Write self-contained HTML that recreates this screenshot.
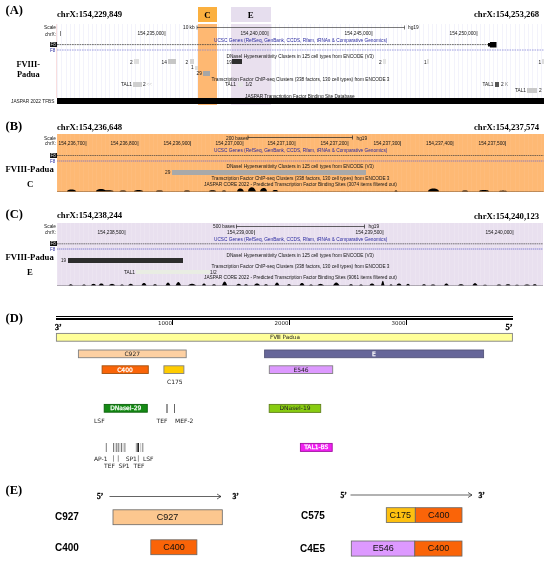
<!DOCTYPE html>
<html><head><meta charset="utf-8">
<style>
html,body{margin:0;padding:0;background:#fff;}
#f{position:relative;width:550px;height:562px;overflow:hidden;background:#fff;font-family:"Liberation Sans",sans-serif;}
#f div{position:absolute;white-space:nowrap;line-height:1;}
#f svg{position:absolute;left:0;top:0;}
.pl{font-family:"Liberation Serif",serif;font-weight:bold;font-size:12.5px;color:#000;}
.ch{font-family:"Liberation Serif",serif;font-weight:bold;font-size:8.7px;color:#000;}
.sl{font-family:"Liberation Serif",serif;font-weight:bold;font-size:9.5px;color:#000;text-align:center;}
.t{font-size:4.75px;color:#151515;transform:translateY(1.2px);}
.r{text-align:right;}
.tb{font-size:4.75px;color:#2a2aa0;transform:translateY(1.2px);}
.bx{font-family:"DejaVu Sans",sans-serif;font-size:6px;text-align:center;color:#222;}
.bb{color:#fff !important;font-size:6px !important;-webkit-text-stroke:0.25px #fff;}
.v{font-family:"DejaVu Sans",sans-serif;font-size:6px;color:#222;}
.eb{font-weight:bold;font-size:10px;color:#000;}
.ex{font-size:9px;text-align:center;color:#111;}
.p5{font-family:"Liberation Serif",serif;font-weight:bold;font-size:7.6px;color:#000;-webkit-text-stroke:0.3px #000;}
</style></head><body>
<div id="f">
<!-- PANEL A -->
 <div style="left:57px;top:24px;width:487px;height:74px;background:repeating-linear-gradient(90deg,#f3f3fb 0,#f3f3fb 1px,#fff 1px,#fff 4.36px);"></div>
 <div style="left:56px;top:24px;width:1px;height:74px;background:#f9dede;"></div>
 <div style="left:198px;top:6.5px;width:19px;height:15px;background:#fbb03f;"></div><div style="left:198px;top:24px;width:19px;height:80.5px;background:#feb872;"></div>
 <div style="left:231px;top:6.5px;width:39.5px;height:15px;background:#e6deee;"></div><div style="left:231px;top:24px;width:39.5px;height:80.5px;background:#e9e0ee;"></div>
 <div class="pl" style="left:5.5px;top:4px;">(A)</div>
 <div class="ch" style="left:57px;top:10.1px;">chrX:154,229,849</div>
 <div class="ch" style="left:474px;top:10.1px;">chrX:154,253,268</div>
 <div class="sl" style="left:198px;top:10.7px;width:19px;font-size:8.8px;">C</div>
 <div class="sl" style="left:231px;top:10.7px;width:39.5px;font-size:8.8px;">E</div>
 <div class="sl" style="left:8.3px;top:59.7px;width:40px;font-size:8.4px;line-height:10.5px;white-space:normal;">FVIII-<br>Padua</div>
 <div class="t r" style="left:20px;width:36px;top:25px;">Scale</div>
 <div class="t r" style="left:20px;width:36px;top:31.5px;">chrX:</div>
 <div class="t" style="left:183px;top:25px;">10 kb</div>
 <div class="t" style="left:408px;top:25px;">hg19</div>
 <div class="t r" style="left:100px;width:64px;top:31.4px;">154,235,000</div>
 <div class="t r" style="left:203px;width:64px;top:31.4px;">154,240,000</div>
 <div class="t r" style="left:307px;width:64px;top:31.4px;">154,245,000</div>
 <div class="t r" style="left:412px;width:64px;top:31.4px;">154,250,000</div>
 <div class="tb" style="left:214px;top:37.5px;">UCSC Genes (RefSeq, GenBank, CCDS, Rfam, tRNAs &amp; Comparative Genomics)</div>
 <div style="left:50px;top:42px;width:6.5px;height:5px;background:#111;color:#ddd;font-size:4.5px;text-align:center;line-height:5px;">F8</div>
 <div class="tb" style="left:50px;top:48px;font-size:4.5px;">F8</div>
 <div class="t" style="left:226.5px;top:54.1px;">DNaseI Hypersensitivity Clusters in 125 cell types from ENCODE (V3)</div>
 <div class="t" style="left:211.5px;top:76.5px;">Transcription Factor ChIP-seq Clusters (338 factors, 130 cell types) from ENCODE 3</div>
 <div class="t" style="left:245px;top:93.5px;">JASPAR Transcription Factor Binding Site Database</div>
 <!-- DNase items -->
 <div class="t" style="left:130px;top:59.5px;">2</div><div style="left:134px;top:59px;width:5px;height:4.5px;background:#dedede;"></div>
 <div class="t" style="left:161.5px;top:59.5px;">14</div><div style="left:168px;top:59px;width:8px;height:4.5px;background:#c6c6c6;"></div>
 <div class="t" style="left:185.5px;top:59.5px;">2</div><div style="left:189.5px;top:59px;width:4.5px;height:4.5px;background:#d4d4d4;"></div>
 <div class="t" style="left:226.5px;top:59.5px;">19</div><div style="left:232px;top:59px;width:10px;height:4.5px;background:#2e2e2e;"></div>
 <div class="t" style="left:191px;top:65px;">1</div><div style="left:194.5px;top:65.5px;width:3.4px;height:4px;background:#ddd;"></div>
 <div class="t" style="left:196.5px;top:71px;">29</div><div style="left:203px;top:70.5px;width:7px;height:5px;background:#a6a6a6;"></div>
 <div class="t" style="left:379px;top:59.5px;">2</div><div style="left:382.5px;top:59px;width:3px;height:4.5px;background:#e4e4e4;"></div>
 <div class="t" style="left:424px;top:59.5px;">1</div><div style="left:426.5px;top:59px;width:2.5px;height:4.5px;background:#ddd;"></div>
 <div class="t" style="left:538.5px;top:59.5px;">1</div><div style="left:541.5px;top:59px;width:2px;height:4.5px;background:#ddd;"></div>
 <!-- TF items -->
 <div class="t" style="left:121px;top:81.5px;">TAL1</div><div style="left:133px;top:81.5px;width:9px;height:5px;background:#cfcfcf;"></div><div class="t" style="left:143px;top:81.5px;">2</div><div class="t" style="left:146.5px;top:81.5px;color:#ccc;">&lt;&lt;</div>
 <div class="t" style="left:225px;top:81.5px;">TAL1</div><div style="left:238px;top:81.5px;width:5px;height:5px;background:#e6e6e6;"></div><div class="t" style="left:245.5px;top:81.5px;">1/2</div>
 <div class="t" style="left:482.5px;top:81.5px;">TAL1</div><div style="left:494.5px;top:81.5px;width:4.5px;height:5px;background:#555;"></div><div class="t" style="left:501px;top:81.5px;">2 <span style="color:#888">K</span></div>
 <div class="t" style="left:515px;top:87.5px;">TAL1</div><div style="left:527px;top:87.5px;width:9.5px;height:5px;background:#cacaca;"></div><div class="t" style="left:539px;top:87.5px;">2</div>
 <div style="left:57px;top:98.3px;width:487px;height:6px;background:#000;"></div>
 <div class="t" style="left:11px;top:98.5px;">JASPAR 2022 TFBS</div>

<!-- PANEL B -->
 <div style="left:57px;top:134px;width:487px;height:57.5px;background:repeating-linear-gradient(90deg,#febc7b 0,#febc7b 1px,#feb974 1px,#feb974 4.36px);"></div>
 <div class="pl" style="left:5.5px;top:120px;">(B)</div>
 <div class="ch" style="left:57px;top:123px;">chrX:154,236,648</div>
 <div class="ch" style="left:474px;top:123px;">chrX:154,237,574</div>
 <div class="ch" style="left:5.5px;top:164.6px;">FVIII-Padua</div>
 <div class="ch" style="left:27px;top:179.5px;">C</div>
 <div class="t r" style="left:20px;width:36px;top:135.7px;">Scale</div>
 <div class="t r" style="left:20px;width:36px;top:141px;">chrX:</div>
 <div class="t" style="left:226px;top:135.7px;">200 bases</div>
 <div class="t" style="left:356.5px;top:135.7px;">hg19</div>
 <div class="t r" style="left:21px;width:64px;top:141px;">154,236,700</div>
 <div class="t r" style="left:73px;width:64px;top:141px;">154,236,800</div>
 <div class="t r" style="left:126px;width:64px;top:141px;">154,236,900</div>
 <div class="t r" style="left:178px;width:64px;top:141px;">154,237,000</div>
 <div class="t r" style="left:230px;width:64px;top:141px;">154,237,100</div>
 <div class="t r" style="left:283px;width:64px;top:141px;">154,237,200</div>
 <div class="t r" style="left:336px;width:64px;top:141px;">154,237,300</div>
 <div class="t r" style="left:388.5px;width:64px;top:141px;">154,237,400</div>
 <div class="t r" style="left:441px;width:64px;top:141px;">154,237,500</div>
 <div class="tb" style="left:214px;top:147.5px;">UCSC Genes (RefSeq, GenBank, CCDS, Rfam, tRNAs &amp; Comparative Genomics)</div>
 <div style="left:50px;top:153px;width:6.5px;height:5px;background:#111;color:#ddd;font-size:4.5px;text-align:center;line-height:5px;">F8</div>
 <div class="tb" style="left:50px;top:159px;font-size:4.5px;">F8</div>
 <div class="t" style="left:226.5px;top:164px;">DNaseI Hypersensitivity Clusters in 125 cell types from ENCODE (V3)</div>
 <div class="t" style="left:165px;top:170px;">29</div>
 <div style="left:172px;top:170px;width:194px;height:5px;background:#a9a9a9;"></div>
 <div class="t" style="left:211.5px;top:175.5px;">Transcription Factor ChIP-seq Clusters (338 factors, 130 cell types) from ENCODE 3</div>
 <div class="t" style="left:204px;top:181.5px;">JASPAR CORE 2022 - Predicted Transcription Factor Binding Sites (3074 items filtered out)</div>

<!-- PANEL C -->
 <div style="left:57px;top:222.5px;width:486px;height:63px;background:repeating-linear-gradient(90deg,#ece4f1 0,#ece4f1 1px,#e9e0ef 1px,#e9e0ef 4.36px);"></div>
 <div class="pl" style="left:5.5px;top:208.2px;">(C)</div>
 <div class="ch" style="left:57px;top:210.6px;">chrX:154,238,244</div>
 <div class="ch" style="left:474px;top:211.6px;">chrX:154,240,123</div>
 <div class="ch" style="left:5.5px;top:252.6px;">FVIII-Padua</div>
 <div class="ch" style="left:27px;top:267.5px;">E</div>
 <div class="t r" style="left:20px;width:36px;top:223.5px;">Scale</div>
 <div class="t r" style="left:20px;width:36px;top:230px;">chrX:</div>
 <div class="t" style="left:213px;top:223.5px;">500 bases</div>
 <div class="t" style="left:368.5px;top:223.5px;">hg19</div>
 <div class="t r" style="left:60px;width:64px;top:230px;">154,238,500</div>
 <div class="t r" style="left:189.5px;width:64px;top:230px;">154,239,000</div>
 <div class="t r" style="left:318px;width:64px;top:230px;">154,239,500</div>
 <div class="t r" style="left:448px;width:64px;top:230px;">154,240,000</div>
 <div class="tb" style="left:214px;top:236.5px;">UCSC Genes (RefSeq, GenBank, CCDS, Rfam, tRNAs &amp; Comparative Genomics)</div>
 <div style="left:50px;top:241.2px;width:6.5px;height:5px;background:#111;color:#ddd;font-size:4.5px;text-align:center;line-height:5px;">F8</div>
 <div class="tb" style="left:50px;top:247px;font-size:4.5px;">F8</div>
 <div class="t" style="left:226.5px;top:252.7px;">DNaseI Hypersensitivity Clusters in 125 cell types from ENCODE (V3)</div>
 <div class="t" style="left:61px;top:258px;font-size:4.5px;">19</div>
 <div style="left:67.5px;top:258px;width:115.5px;height:5px;background:#2d2d2d;"></div>
 <div class="t" style="left:211.5px;top:264px;">Transcription Factor ChIP-seq Clusters (338 factors, 130 cell types) from ENCODE 3</div>
 <div class="t" style="left:124px;top:269.5px;">TAL1</div>
 <div style="left:135.5px;top:270px;width:74px;height:4px;background:#e9ede3;"></div>
 <div class="t" style="left:210px;top:270.3px;">1/2</div>
 <div class="t" style="left:204px;top:275.2px;">JASPAR CORE 2022 - Predicted Transcription Factor Binding Sites (9061 items filtered out)</div>

<!-- PANEL D -->
 <svg width="550" height="562" viewBox="0 0 550 562">
  <g stroke="#808080" stroke-width="0.9">
   <rect x="56.4" y="333.4" width="456" height="7.8" fill="#ffff99"/>
   <rect x="78.4" y="350" width="107.8" height="7.7" fill="#fdd0a2"/>
   <rect x="264.6" y="350" width="219" height="7.7" fill="#666699" stroke="#55557a"/>
   <rect x="102.1" y="365.8" width="46.2" height="7.7" fill="#fa6408" stroke="#a0500f"/>
   <rect x="163.9" y="365.8" width="20" height="7.7" fill="#ffcc00"/>
   <rect x="269.3" y="365.8" width="63.4" height="7.7" fill="#dd99ff"/>
   <rect x="104.2" y="404.4" width="43.1" height="7.8" fill="#158a15" stroke="#0a600a"/>
   <rect x="269.2" y="404.4" width="51.5" height="8" fill="#88cc11" stroke="#60801a"/>
   <rect x="300.4" y="443.4" width="31.8" height="8" fill="#f020f0" stroke="#a010a0"/>
  </g>
  <g stroke="#666" stroke-width="0.8">
   <rect x="113" y="509.8" width="109.3" height="14.9" fill="#fcc78f"/>
   <rect x="150.8" y="539.8" width="46.1" height="14.9" fill="#fa6408"/>
   <rect x="386.3" y="507.7" width="29" height="14.8" fill="#fdc010"/>
   <rect x="415.3" y="507.7" width="46.7" height="14.8" fill="#fa6408"/>
   <rect x="351.3" y="541" width="63.5" height="15.1" fill="#dd99ff"/>
   <rect x="414.8" y="541" width="47.2" height="15.1" fill="#fa6408"/>
  </g>
 </svg>
 <div class="pl" style="left:5.5px;top:311.5px;">(D)</div>
 <div style="left:56px;top:315.8px;width:457px;height:1.3px;background:#000;"></div>
 <div style="left:56px;top:318.4px;width:457px;height:1.4px;background:#000;"></div>
 <div class="p5" style="left:55px;top:323.5px;font-size:8px;">3’</div>
 <div class="p5" style="left:505.5px;top:323px;font-size:8.5px;">5’</div>
 <div class="v" style="left:158px;top:320.7px;font-size:5.5px;">1000</div><div style="left:172px;top:320px;width:1px;height:4.5px;background:#000;"></div>
 <div class="v" style="left:274.6px;top:320.7px;font-size:5.5px;">2000</div><div style="left:289px;top:320px;width:1px;height:4.5px;background:#000;"></div>
 <div class="v" style="left:391.5px;top:320.7px;font-size:5.5px;">3000</div><div style="left:405.5px;top:320px;width:1px;height:4.5px;background:#000;"></div>
 <div class="bx" style="left:270px;top:334.5px;font-size:5.7px;">FⅧ Padua</div>
 <div class="bx" style="left:78px;top:350.7px;width:108.5px;">C927</div>
 <div class="bx bb" style="left:264px;top:350.9px;width:220px;">E</div>
 <div class="bx bb" style="left:101.5px;top:366.7px;width:47px;">C400</div>
 <div class="v" style="left:167px;top:378.5px;">C175</div>
 <div class="bx" style="left:269px;top:366.5px;width:64px;">E546</div>
 <div class="bx bb" style="left:104px;top:405.3px;width:43.5px;">DNaseI-29</div>
 <div style="left:166px;top:404px;width:2px;height:8.5px;background:#999;"></div>
 <div style="left:174px;top:404px;width:1px;height:8.5px;background:#666;"></div>
 <div class="bx" style="left:269px;top:405.2px;width:52px;">DNaseI-19</div>
 <div class="v" style="left:94px;top:417.5px;">LSF</div>
 <div class="v" style="left:156.5px;top:417.5px;">TEF</div>
 <div class="v" style="left:175px;top:417.5px;">MEF-2</div>
 <div class="bx bb" style="left:300px;top:444.4px;width:32.5px;">TAL1-BS</div>
 <div class="v" style="left:94px;top:455.5px;">AP-1</div>
 <div class="v" style="left:125.7px;top:455.5px;">SP1</div>
 <div class="v" style="left:142.9px;top:455.5px;">LSF</div>
 <div class="v" style="left:104px;top:463.1px;">TEF</div>
 <div class="v" style="left:118.4px;top:463.1px;">SP1</div>
 <div class="v" style="left:133.5px;top:463.1px;">TEF</div>

<!-- PANEL E -->
 <div class="pl" style="left:5.5px;top:483.5px;">(E)</div>
 <div class="p5" style="left:97px;top:493.3px;">5’</div>
 <div class="p5" style="left:232.5px;top:493.3px;">3’</div>
 <div class="p5" style="left:340.5px;top:492.3px;">5’</div>
 <div class="p5" style="left:478.5px;top:492.3px;">3’</div>
 <div class="eb" style="left:55px;top:511.5px;">C927</div>
 <div class="eb" style="left:55px;top:542.5px;">C400</div>
 <div class="eb" style="left:301px;top:510.5px;">C575</div>
 <div class="eb" style="left:300px;top:543.5px;">C4E5</div>
 <div class="ex" style="left:112.5px;top:512.5px;width:110px;">C927</div>
 <div class="ex" style="left:150.5px;top:543px;width:47px;">C400</div>
 <div class="ex" style="left:385.3px;top:510.5px;width:30px;">C175</div>
 <div class="ex" style="left:415px;top:510.5px;width:47.5px;">C400</div>
 <div class="ex" style="left:351px;top:544px;width:64.5px;">E546</div>
 <div class="ex" style="left:414.5px;top:544px;width:48px;">C400</div>

<svg width="550" height="562" viewBox="0 0 550 562">
 <!-- A lines -->
 <g fill="none" stroke-width="1">
 <path d="M57 44.6H490" stroke="#333" stroke-dasharray="1.8 0.7" stroke-width="0.7"/>
 <path d="M57 50H543.5" stroke="#8585d8" stroke-dasharray="1.6 0.9" stroke-width="0.8"/>
 <path d="M197 27.5H404.5M197 25.5v4M404.5 25.5v4" stroke="#222" stroke-width="0.6"/>
 <path d="M60.5 31v5M165 31v5M268 31v5M372 31v5M477 31v5" stroke="#333" stroke-width="0.6"/>
 <!-- B lines -->
 <path d="M57 155.5H543.5" stroke="#3a3a3a" stroke-dasharray="1.6 0.6" stroke-width="0.65"/>
 <path d="M57 161H543.5" stroke="#7a6cc4" stroke-dasharray="1.4 0.6" stroke-width="0.8"/>
 <path d="M248 137.5H352.5M248 135.5v4M352.5 135.5v4" stroke="#222" stroke-width="0.7"/>
 <path d="M86 141v5M138 141v5M190.5 141v5M243 141v5M295 141v5M348 141v5M400.5 141v5M453 141v5M505.5 141v5" stroke="#333" stroke-width="0.6"/>
 <!-- C lines -->
 <path d="M57 243.8H543" stroke="#3a3a3a" stroke-dasharray="1.6 0.6" stroke-width="0.65"/>
 <path d="M57 249H543" stroke="#6a6acc" stroke-dasharray="1.4 0.6" stroke-width="0.8"/>
 <path d="M236.5 226.5H364.5M236.5 224.5v4M364.5 224.5v4" stroke="#222" stroke-width="0.7"/>
 <path d="M125 230v5M254.5 230v5M383 230v5M513 230v5" stroke="#333" stroke-width="0.6"/>
 </g>
 <rect x="490" y="42" width="6.5" height="5.5" fill="#000"/>
 <rect x="488" y="43" width="3" height="3.5" fill="#000"/>
 <!-- B peaks -->
 <path d="M57 191.6L57 191.2L67 191.2L67.5 190.51L68 190.2L68.5 189.97L69 189.79L69.5 189.65L70 189.54L70.5 189.46L71 189.42L71.5 189.4L72 189.42L72.5 189.46L73 189.54L73.5 189.65L74 189.79L74.5 189.97L75 190.2L75.5 190.51L76 191.2L96 191.2L96.5 190.37L97 189.99L97.5 189.71L98 189.48L98.5 189.3L99 189.15L99.5 189.04L100 188.96L100.5 188.92L101 188.9L101.5 188.92L102 188.96L102.5 189.04L103 189.15L103.5 189.3L104 189.48L104.5 189.71L105 189.99L105.5 190.34L106 190.29L106.5 190.25L107 190.22L107.5 190.21L108 190.2L108.5 190.21L109 190.22L109.5 190.25L110 190.29L110.5 190.34L111 190.41L111.5 190.49L112 190.58L112.5 190.7L113 190.86L113.5 191.2L119.5 191.2L120 191L120.5 190.82L121 190.69L121.5 190.61L122 190.55L122.5 190.51L123 190.5L123.5 190.51L124 190.55L124.5 190.61L125 190.69L125.5 190.82L126 191L126.5 191.2L134 191.2L134.5 190.74L135 190.53L135.5 190.38L136 190.26L136.5 190.16L137 190.09L137.5 190.04L138 190.01L138.5 190L139 190.01L139.5 190.04L140 190.09L140.5 190.16L141 190.26L141.5 190.38L142 190.53L142.5 190.74L143 191.2L156 191.2L156.5 190.85L157 190.69L157.5 190.58L158 190.5L158.5 190.44L159 190.41L159.5 190.4L160 190.41L160.5 190.44L161 190.5L161.5 190.58L162 190.69L162.5 190.85L163 191.2L184 191.2L184.5 190.82L185 190.65L185.5 190.54L186 190.46L186.5 190.42L187 190.4L187.5 190.42L188 190.46L188.5 190.54L189 190.65L189.5 190.82L190 191.2L209 191.2L209.5 190.76L210 190.57L210.5 190.43L211 190.33L211.5 190.26L212 190.21L212.5 190.2L213 190.21L213.5 190.26L214 190.33L214.5 190.43L215 190.57L215.5 190.76L216 191.2L222 191.2L222.5 190.79L223 190.62L223.5 190.53L224 190.5L224.5 190.53L225 190.62L225.5 190.79L226 191.2L237 191.2L237.5 190.23L238 189.55L238.5 189.09L239 188.77L239.5 188.55L240 188.43L240.5 188.4L241 188.47L241.5 188.63L242 188.89L242.5 189.26L243 189.78L243.5 190.67L244 191.2L248 191.2L248.5 189.57L249 188.84L249.5 188.31L250 187.91L250.5 187.61L251 187.42L251.5 187.32L252 187.31L252.5 187.39L253 187.57L253.5 187.84L254 188.22L254.5 188.72L255 189.4L255.5 190.52L256 191.2L260 191.2L260.5 190.09L261 189.32L261.5 188.79L262 188.41L262.5 188.14L263 187.97L263.5 187.9L264 187.93L264.5 188.06L265 188.29L265.5 188.62L266 189.08L266.5 189.73L267 191.2L267.5 191.2L272.5 191.2L273 190.62L273.5 190.31L274 190.11L274.5 189.98L275 189.91L275.5 189.9L276 189.96L276.5 190.08L277 190.26L277.5 190.55L278 191.2L278.5 191.2L394.5 191.2L395 190.65L395.5 190.46L396 190.4L396.5 190.46L397 190.65L397.5 191.2L428 191.2L428.5 190.24L429 189.81L429.5 189.47L430 189.2L430.5 188.98L431 188.8L431.5 188.65L432 188.54L432.5 188.46L433 188.42L433.5 188.4L434 188.42L434.5 188.46L435 188.54L435.5 188.65L436 188.8L436.5 188.98L437 189.2L437.5 189.47L438 189.81L438.5 190.24L439 191.2L462 191.2L462.5 190.82L463 190.65L463.5 190.54L464 190.46L464.5 190.42L465 190.4L465.5 190.42L466 190.46L466.5 190.54L467 190.65L467.5 190.82L468 191.2L479 191.2L479.5 190.73L480 190.52L480.5 190.36L481 190.23L481.5 190.13L482 190.04L482.5 189.98L483 189.94L483.5 189.91L484 189.9L484.5 189.91L485 189.94L485.5 189.98L486 190.04L486.5 190.13L487 190.23L487.5 190.36L488 190.52L488.5 190.73L489 191.2L499 191.2L499.5 190.96L500 190.85L500.5 190.77L501 190.7L501.5 190.66L502 190.63L502.5 190.61L503 190.6L503.5 190.61L504 190.63L504.5 190.66L505 190.7L505.5 190.77L506 190.85L506.5 190.96L507 191.2L543.5 191.2L543.5 191.6Z" fill="#000"/>
 <!-- C peaks -->
 <path id="cp" d="M57 285.6L57 285.2L68.5 285.2L69 284.96L69.5 284.64L70 284.42L70.5 284.31L71 284.32L71.5 284.46L72 284.7L72.5 285.03L73 285.2L82 285.2L82.5 284.9L83 284.67L83.5 284.53L84 284.48L84.5 284.53L85 284.67L85.5 284.9L86 285.2L91 285.2L91.5 284.73L92 284.36L92.5 284.08L93 283.91L93.5 283.85L94 283.91L94.5 284.08L95 284.36L95.5 284.73L96 285.2L98.5 285.2L99 284.92L99.5 284.37L100 283.92L100.5 283.6L101 283.43L101.5 283.41L102 283.55L102.5 283.85L103 284.27L103.5 284.8L104 285.2L109 285.2L109.5 284.8L110 284.48L110.5 284.21L111 284.01L111.5 283.89L112 283.85L112.5 283.89L113 284.01L113.5 284.21L114 284.48L114.5 284.8L115 285.2L120 285.2L120.5 284.9L121 284.67L121.5 284.53L122 284.48L122.5 284.53L123 284.67L123.5 284.9L124 285.2L128 285.2L128.5 284.99L129 284.57L129.5 284.24L130 284L130.5 283.87L131 283.86L131.5 283.97L132 284.18L132.5 284.5L133 284.9L133.5 285.2L141.5 285.2L142 284.42L142.5 283.81L143 283.34L143.5 283.05L144 282.95L144.5 283.05L145 283.34L145.5 283.81L146 284.42L146.5 285.2L153 285.2L153.5 284.82L154 284.54L154.5 284.36L155 284.3L155.5 284.36L156 284.54L156.5 284.82L157 285.2L165.5 285.2L166 284.73L166.5 283.81L167 283.1L167.5 282.65L168 282.5L168.5 282.65L169 283.1L169.5 283.81L170 284.73L170.5 285.2L175.5 285.2L176 284.71L176.5 283.74L177 282.96L177.5 282.4L178 282.1L178.5 282.07L179 282.32L179.5 282.83L180 283.57L180.5 284.5L181 285.2L188 285.2L188.5 284.89L189 284.63L189.5 284.4L190 284.21L190.5 284.06L191 283.94L191.5 283.87L192 283.85L192.5 283.87L193 283.94L193.5 284.06L194 284.21L194.5 284.4L195 284.63L195.5 284.89L196 285.2L202 285.2L202.5 284.44L203 283.88L203.5 283.52L204 283.4L204.5 283.52L205 283.88L205.5 284.44L206 285.2L212 285.2L212.5 284.82L213 284.54L213.5 284.36L214 284.3L214.5 284.36L215 284.54L215.5 284.82L216 285.2L222 285.2L222.5 284.17L223 283.15L223.5 282.35L224 281.83L224.5 281.61L225 281.7L225.5 282.11L226 282.8L226.5 283.74L227 284.9L227.5 285.2L236 285.2L236.5 284.99L237 284.57L237.5 284.24L238 284L238.5 283.87L239 283.86L239.5 283.97L240 284.18L240.5 284.5L241 284.9L241.5 285.2L244 285.2L244.5 284.82L245 284.54L245.5 284.36L246 284.3L246.5 284.36L247 284.54L247.5 284.82L248 285.2L254 285.2L254.5 284.67L255 284.24L255.5 283.88L256 283.62L256.5 283.46L257 283.4L257.5 283.46L258 283.62L258.5 283.88L259 284.24L259.5 284.67L260 285.2L264 285.2L264.5 284.82L265 284.54L265.5 284.36L266 284.3L266.5 284.36L267 284.54L267.5 284.82L268 285.2L274.5 285.2L275 284.73L275.5 283.81L276 283.1L276.5 282.65L277 282.5L277.5 282.65L278 283.1L278.5 283.81L279 284.73L279.5 285.2L287 285.2L287.5 284.75L288 284.41L288.5 284.19L289 284.12L289.5 284.19L290 284.41L290.5 284.75L291 285.2L299.5 285.2L300 284.42L300.5 283.81L301 283.34L301.5 283.05L302 282.95L302.5 283.05L303 283.34L303.5 283.81L304 284.42L304.5 285.2L309 285.2L309.5 284.9L310 284.67L310.5 284.53L311 284.48L311.5 284.53L312 284.67L312.5 284.9L313 285.2L317.5 285.2L318 284.87L318.5 284.54L319 284.26L319.5 284.05L320 283.91L320.5 283.85L321 283.88L321.5 283.98L322 284.17L322.5 284.42L323 284.73L323.5 285.11L324 285.2L333 285.2L333.5 284.85L334 284.13L334.5 283.53L335 283.05L335.5 282.71L336 282.53L336.5 282.51L337 282.66L337.5 282.97L338 283.42L338.5 284L339 284.69L339.5 285.2L349 285.2L349.5 284.82L350 284.54L350.5 284.36L351 284.3L351.5 284.36L352 284.54L352.5 284.82L353 285.2L359 285.2L359.5 284.9L360 284.67L360.5 284.53L361 284.48L361.5 284.53L362 284.67L362.5 284.9L363 285.2L369.5 285.2L370 284.57L370.5 284.08L371 283.71L371.5 283.48L372 283.4L372.5 283.48L373 283.71L373.5 284.08L374 284.57L374.5 285.2L381 285.2L381.5 284.11L382 282.07L382.5 280.9L383 280.79L383.5 281.76L384 283.64L384.5 285.2L389.5 285.2L390 284.72L390.5 284.41L391 284.3L391.5 284.41L392 284.72L392.5 285.2L396.5 285.2L397 284.57L397.5 284.08L398 283.71L398.5 283.48L399 283.4L399.5 283.48L400 283.71L400.5 284.08L401 284.57L401.5 285.2L406 285.2L406.5 284.63L407 284.21L407.5 283.94L408 283.85L408.5 283.94L409 284.21L409.5 284.63L410 285.2L422 285.2L422.5 284.76L423 284.43L423.5 284.22L424 284.15L424.5 284.22L425 284.43L425.5 284.76L426 285.2L430.5 285.2L431 284.96L431.5 284.77L432 284.62L432.5 284.53L433 284.5L433.5 284.53L434 284.62L434.5 284.77L435 284.96L435.5 285.2L444 285.2L444.5 284.77L445 284.19L445.5 283.77L446 283.51L446.5 283.45L447 283.59L447.5 283.92L448 284.41L448.5 285.04L449 285.2L458 285.2L458.5 284.89L459 284.64L459.5 284.43L460 284.28L460.5 284.18L461 284.15L461.5 284.18L462 284.28L462.5 284.43L463 284.64L463.5 284.89L464 285.2L472.5 285.2L473 284.47L473.5 283.9L474 283.46L474.5 283.19L475 283.1L475.5 283.19L476 283.46L476.5 283.9L477 284.47L477.5 285.2L483 285.2L483.5 284.96L484 284.79L484.5 284.68L485 284.64L485.5 284.68L486 284.79L486.5 284.96L487 285.2L496.5 285.2L497 284.96L497.5 284.77L498 284.62L498.5 284.53L499 284.5L499.5 284.53L500 284.62L500.5 284.77L501 284.96L501.5 285.2L505.5 285.2L506 284.84L506.5 284.55L507 284.33L507.5 284.2L508 284.15L508.5 284.2L509 284.33L509.5 284.55L510 284.84L510.5 285.2L515 285.2L515.5 284.96L516 284.79L516.5 284.68L517 284.64L517.5 284.68L518 284.79L518.5 284.96L519 285.2L524 285.2L524.5 284.99L525 284.82L525.5 284.69L526 284.58L526.5 284.52L527 284.5L527.5 284.52L528 284.58L528.5 284.69L529 284.82L529.5 284.99L530 285.2L532.5 285.2L533 284.92L533.5 284.55L534 284.29L534.5 284.16L535 284.18L535.5 284.33L536 284.61L536.5 285L537 285.2L543 285.2L543 285.6Z" fill="#000"/>
 <!-- D ticks -->
 <g stroke="#222" stroke-width="0.6" fill="none">
 <path d="M106.3 443v9M113.5 443v9M116.7 443v9M118.3 443v9M121.5 443v9M124.9 443v9M142.8 443v9"/>
 <path d="M113.5 455.3v6.4M118.3 455.3v6.4M138.4 455.3v6.4" stroke="#555"/>
 <path d="M115.1 443v9M119.9 443v9M123.1 443v9M140.7 443v9" stroke="#999"/>
 </g>
 <rect x="135.8" y="443" width="1.6" height="9" fill="#aaa"/>
 <rect x="137.4" y="443" width="1.6" height="9" fill="#222"/>
 <!-- E arrows -->
 <g stroke="#222" stroke-width="0.7" fill="none">
 <path d="M109.500 496.500H221M217 494l4 2.500-4 2.5"/>
 <path d="M350.500 495H472M468 492.500l4 2.500-4 2.5"/>
 </g>
</svg>
</div>
</body></html>
